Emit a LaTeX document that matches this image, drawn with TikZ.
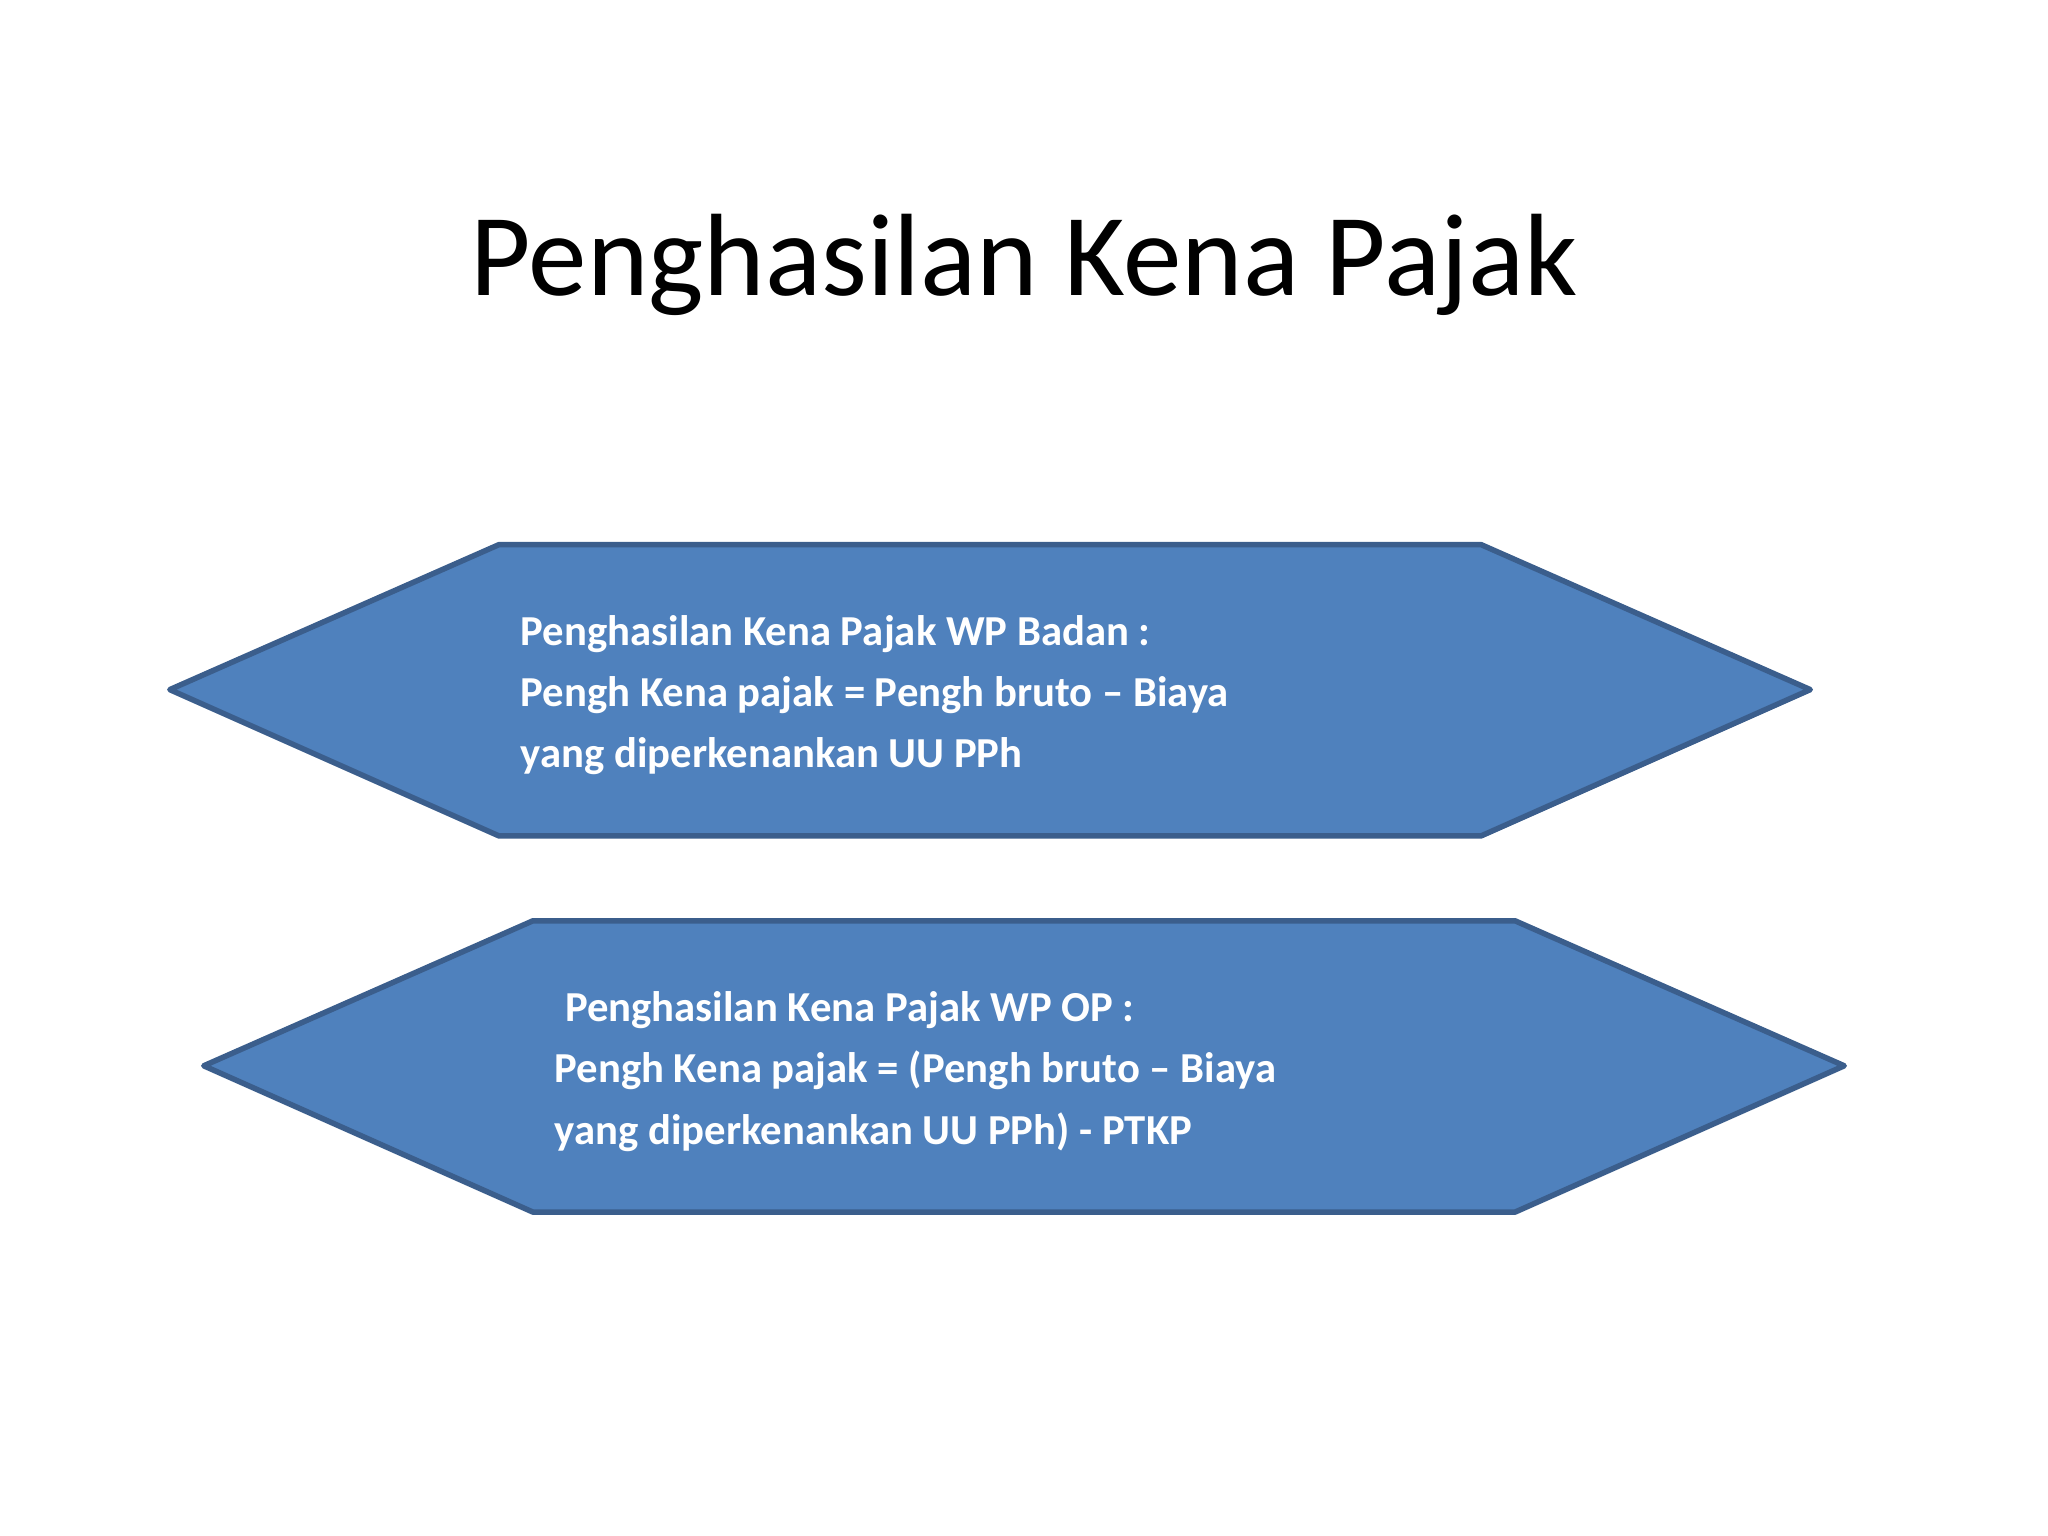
\documentclass[tikz,border=0pt]{standalone}
\usepackage{fontspec}
\setmainfont{Carlito}
\definecolor{hexfill}{HTML}{4F81BD}
\definecolor{hexline}{HTML}{3B5E8C}
\begin{document}
\begin{tikzpicture}[x=0.01cm,y=-0.01cm,
  hexa/.style={fill=hexfill,draw=hexline,line width=1.2pt,line join=round},
  body/.style={anchor=base west,inner sep=0,text=white,font=\fontsize{9.3}{13.4}\selectfont\bfseries,align=left},
  title/.style={anchor=base,inner sep=0,font=\fontsize{25.5}{30}\selectfont}]
\useasboundingbox (0,0) rectangle (1568,1176);
\node[title] (t) at (784,226) {Penghasilan Kena Pajak};
\draw[hexa] (130,528) -- (382,417) -- (1134,417) -- (1386,528) -- (1134,640) -- (382,640) -- cycle;
\draw[hexa] (156,816) -- (408,705) -- (1160,705) -- (1412,816) -- (1160,928) -- (408,928) -- cycle;
\node[body] (a1) at (398,494) {Penghasilan Kena Pajak WP Badan :};
\node[body] (a2) at (398,541) {Pengh Kena pajak = Pengh bruto – Biaya};
\node[body] (a3) at (398,588) {yang diperkenankan UU PPh};
\node[body] (b1) at (432,782) {Penghasilan Kena Pajak WP OP :};
\node[body] (b2) at (424,829) {Pengh Kena pajak = (Pengh bruto – Biaya};
\node[body] (b3) at (424,876) {yang diperkenankan UU PPh) - PTKP};
\end{tikzpicture}
\end{document}
